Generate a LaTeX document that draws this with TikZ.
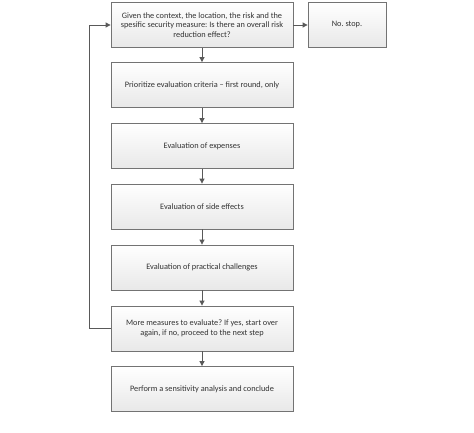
\documentclass[tikz,border=0pt]{standalone}
\usepackage{fontspec}
\setmainfont{Carlito}
\frenchspacing
\usetikzlibrary{arrows.meta}
\begin{document}
\begin{tikzpicture}[x=1pt,y=-1pt,
  box/.style={draw=black!55, line width=0.8pt, top color=white, bottom color=black!9,
    minimum width=182pt, minimum height=45pt, align=center,
    font=\fontsize{8.3}{9.8}\selectfont, text=black!80, inner sep=2pt},
  stopbox/.style={box, minimum width=78pt},
  conn/.style={draw=black!65, line width=0.8pt, -{Triangle[length=5pt,width=5pt]}}]
\useasboundingbox (0,0) rectangle (474,432);
\node[box] (b1) at (202,25) {Given the context, the location, the risk and the\\ spesific security measure: Is there an overall risk\\ reduction effect?};
\node[stopbox] (stop) at (347,25) {No. stop.};
\node[box] (b2) at (202,85) {Prioritize evaluation criteria -- first round, only};
\node[box] (b3) at (202,146) {Evaluation of expenses};
\node[box] (b4) at (202,206.5) {Evaluation of side effects};
\node[box] (b5) at (202,267.5) {Evaluation of practical challenges};
\node[box] (b6) at (202,328.5) {More measures to evaluate? If yes, start over\\ again, if no, proceed to the next step};
\node[box] (b7) at (202,389) {Perform a sensitivity analysis and conclude};
\draw[conn] (b1) -- (stop);
\draw[conn] (b1) -- (b2);
\draw[conn] (b2) -- (b3);
\draw[conn] (b3) -- (b4);
\draw[conn] (b4) -- (b5);
\draw[conn] (b5) -- (b6);
\draw[conn] (b6) -- (b7);
\coordinate (lx) at (89,0);
\draw[conn] (b6.west) -- (b6.west -| lx) -- (b1.west -| lx) -- (b1.west);
\end{tikzpicture}
\end{document}
